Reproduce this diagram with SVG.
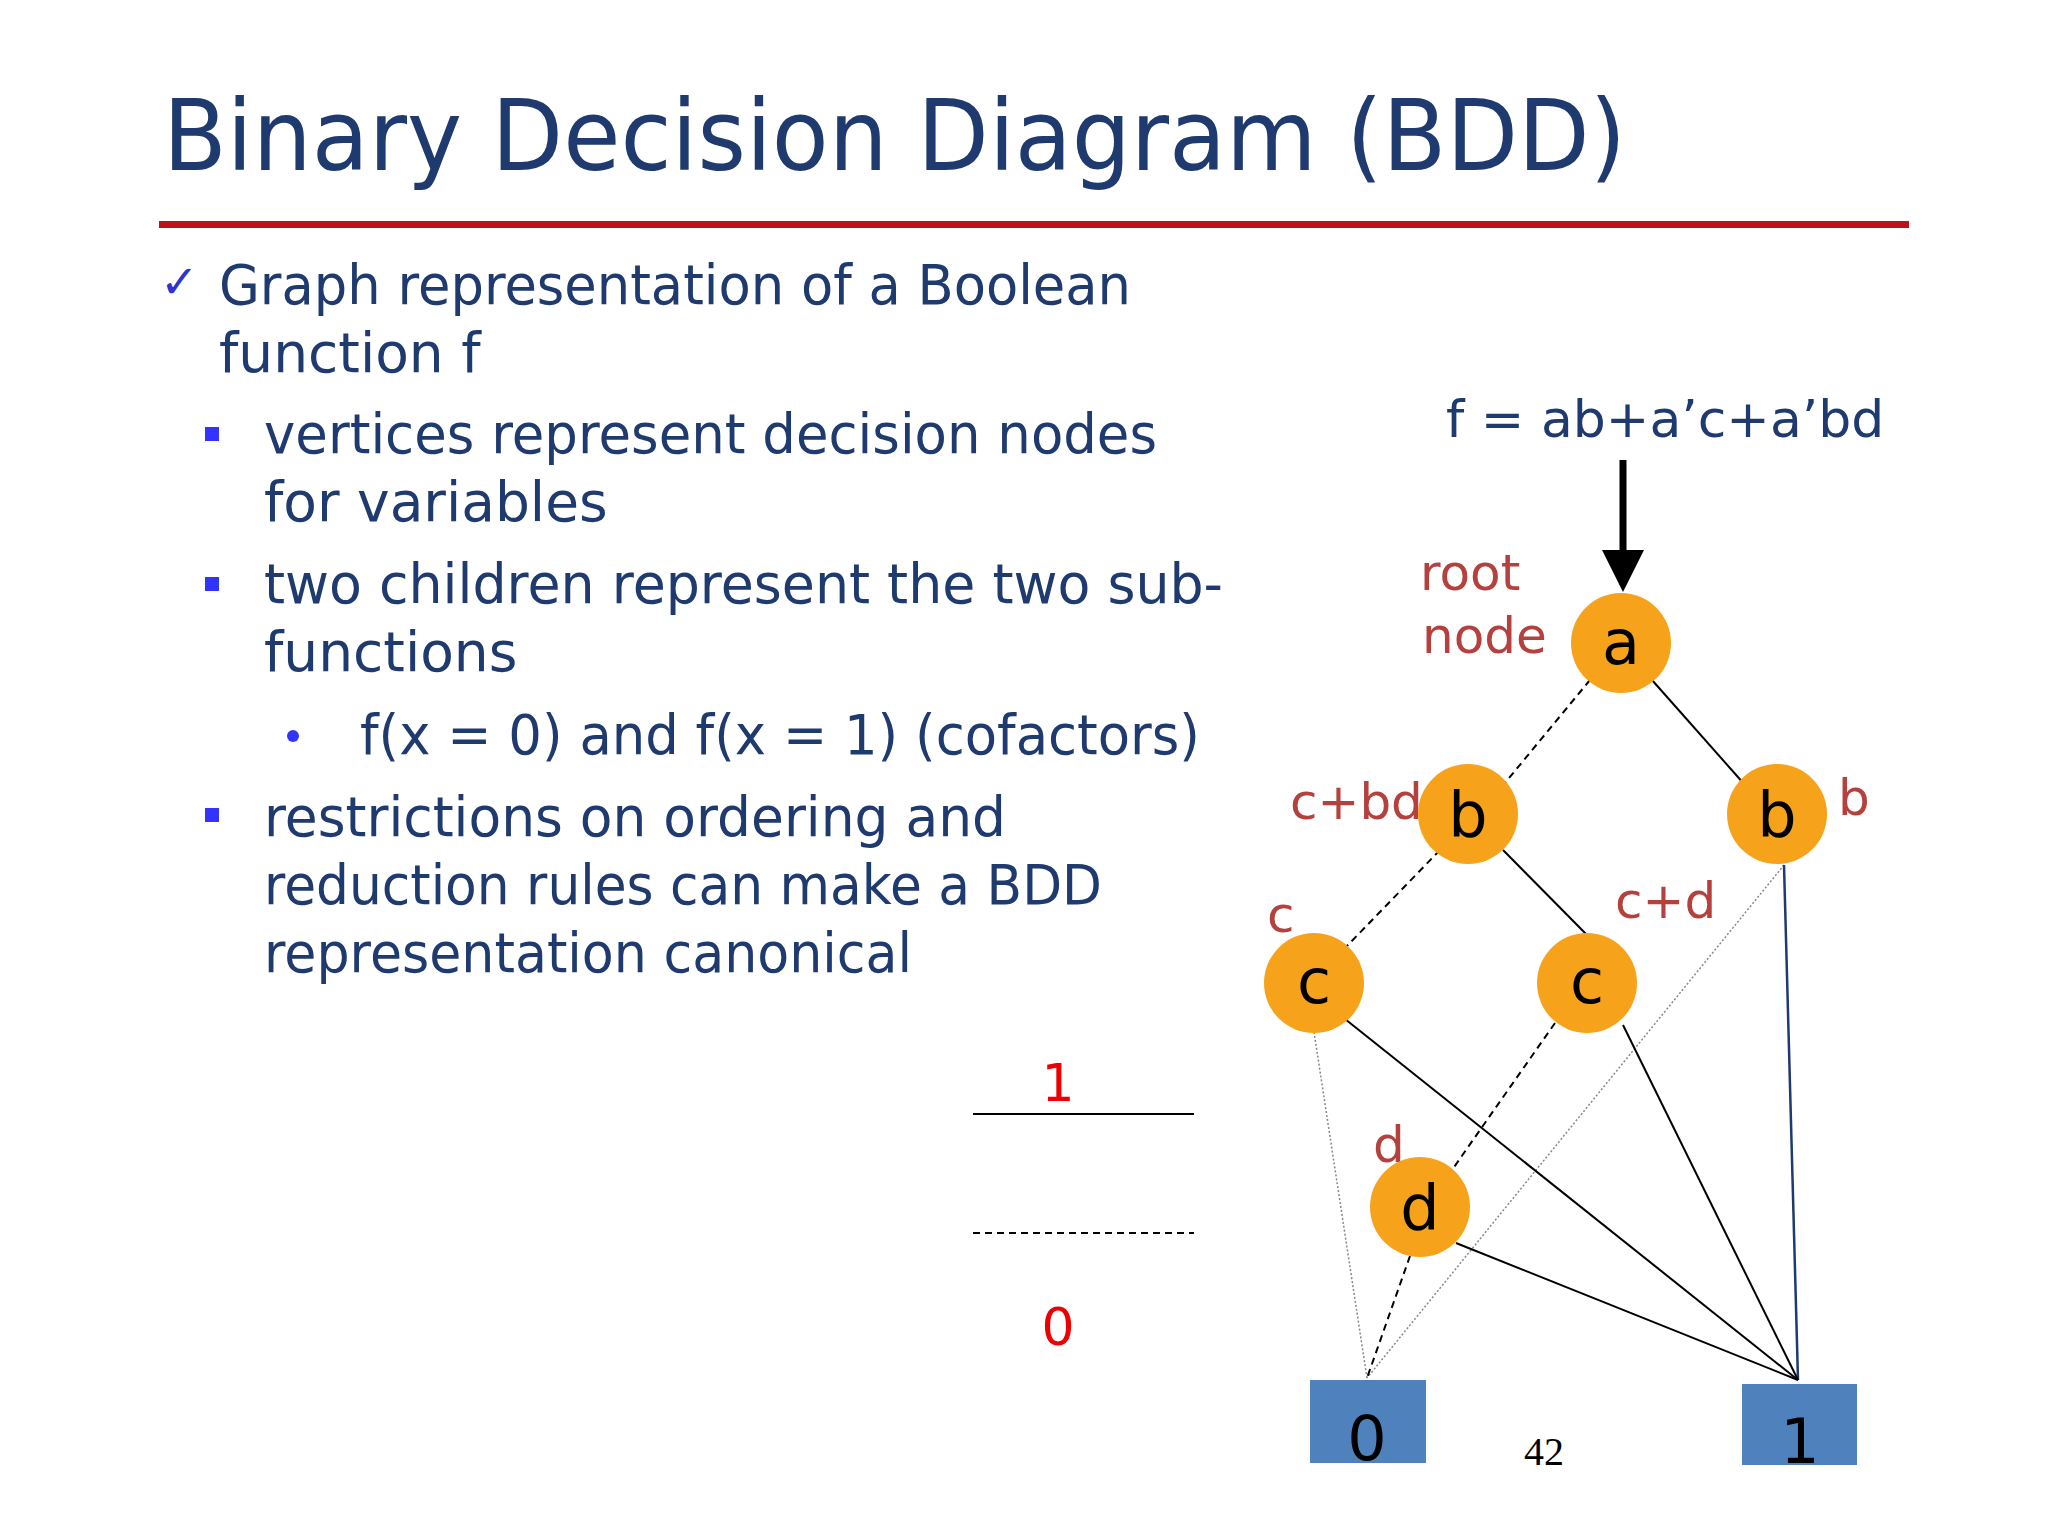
<svg xmlns="http://www.w3.org/2000/svg" width="2048" height="1536" viewBox="0 0 2048 1536">
<style>
.t{font-family:"DejaVu Sans","Noto Sans",sans-serif;fill:#1f3a6e}
.lab{font-family:"DejaVu Sans",sans-serif;fill:#b5413f;font-size:50px}
.nd{fill:#f7a21b}
.nl{font-family:"DejaVu Sans",sans-serif;font-size:62px;fill:#000;text-anchor:middle}
.sq{fill:#3333ff}
</style>
<defs><marker id="ah" markerWidth="6" markerHeight="6" refX="5" refY="3" orient="auto" markerUnits="strokeWidth"><path d="M0,0 L6,3 L0,6 z" fill="#000"/></marker></defs>
<rect width="2048" height="1536" fill="#fff"/>
<text class="t" x="163" y="170" font-size="98" textLength="1463" lengthAdjust="spacingAndGlyphs">Binary Decision Diagram (BDD)</text>
<rect x="159" y="221" width="1750" height="7" fill="#c0101a"/>
<text x="160" y="298" font-family="DejaVu Sans,sans-serif" font-size="46" fill="#3333cc">✓</text>
<g class="t" font-size="55">
<text x="219" y="304" textLength="912" lengthAdjust="spacingAndGlyphs">Graph representation of a Boolean</text>
<text x="219" y="372">function f</text>
<text x="264" y="453" textLength="893" lengthAdjust="spacingAndGlyphs">vertices represent decision nodes</text>
<text x="264" y="521">for variables</text>
<text x="264" y="603" textLength="959" lengthAdjust="spacingAndGlyphs">two children represent the two sub-</text>
<text x="264" y="671">functions</text>
<text x="360" y="754" textLength="840" lengthAdjust="spacingAndGlyphs">f(x = 0) and f(x = 1) (cofactors)</text>
<text x="264" y="836" textLength="742" lengthAdjust="spacingAndGlyphs">restrictions on ordering and</text>
<text x="264" y="904" textLength="838" lengthAdjust="spacingAndGlyphs">reduction rules can make a BDD</text>
<text x="264" y="972" textLength="648" lengthAdjust="spacingAndGlyphs">representation canonical</text>
</g>
<rect class="sq" x="205" y="427" width="14" height="14"/>
<rect class="sq" x="205" y="577" width="14" height="14"/>
<rect class="sq" x="205" y="808" width="14" height="14"/>
<circle cx="293" cy="736" r="6" fill="#3333ff"/>
<text class="t" x="1446" y="437" font-size="52">f = ab+a’c+a’bd</text>
<line x1="1623" y1="460" x2="1623" y2="585" stroke="#000" stroke-width="7" marker-end="url(#ah)"/>
<text class="lab" x="1420" y="590">root</text>
<text class="lab" x="1422" y="653">node</text>
<text class="lab" x="1290" y="819">c+bd</text>
<text class="lab" x="1838" y="815">b</text>
<text class="lab" x="1267" y="932">c</text>
<text class="lab" x="1615" y="918">c+d</text>
<text class="lab" x="1373" y="1162">d</text>
<text x="1058" y="1101" font-family="DejaVu Sans,sans-serif" font-size="52" fill="#e00" text-anchor="middle">1</text>
<text x="1058" y="1345" font-family="DejaVu Sans,sans-serif" font-size="52" fill="#e00" text-anchor="middle">0</text>
<line x1="973" y1="1114" x2="1194" y2="1114" stroke="#000" stroke-width="2"/>
<line x1="973" y1="1233" x2="1194" y2="1233" stroke="#000" stroke-width="2" stroke-dasharray="7,5"/>
<g id="connectors" fill="none">
<line x1="1590" y1="680" x2="1495" y2="795" stroke="#000" stroke-width="2" stroke-dasharray="7,5"/>
<line x1="1652" y1="680" x2="1745" y2="785" stroke="#000" stroke-width="2"/>
<line x1="1440" y1="850" x2="1345" y2="948" stroke="#000" stroke-width="2" stroke-dasharray="7,5"/>
<line x1="1503" y1="850" x2="1587" y2="935" stroke="#000" stroke-width="2"/>
<line x1="1784" y1="865" x2="1367" y2="1378" stroke="#888" stroke-width="1.5" stroke-dasharray="2,2"/>
<line x1="1784" y1="865" x2="1798" y2="1380" stroke="#1f3a6e" stroke-width="2.5"/>
<line x1="1314" y1="1032" x2="1367" y2="1378" stroke="#888" stroke-width="1.5" stroke-dasharray="2,2"/>
<line x1="1345" y1="1019" x2="1798" y2="1380" stroke="#000" stroke-width="2"/>
<line x1="1555" y1="1023" x2="1452" y2="1170" stroke="#000" stroke-width="2" stroke-dasharray="7,5"/>
<line x1="1623" y1="1025" x2="1798" y2="1380" stroke="#000" stroke-width="2"/>
<line x1="1410" y1="1256" x2="1367" y2="1378" stroke="#000" stroke-width="2" stroke-dasharray="7,5"/>
<line x1="1456" y1="1243" x2="1798" y2="1380" stroke="#000" stroke-width="2"/>
</g>
<g id="a"><circle class="nd" cx="1621" cy="643" r="50"/><text class="nl" x="1621" y="664">a</text></g>
<g id="b1"><circle class="nd" cx="1468" cy="814" r="50"/><text class="nl" x="1468" y="836">b</text></g>
<g id="b2"><circle class="nd" cx="1777" cy="814" r="50"/><text class="nl" x="1777" y="836">b</text></g>
<g id="c1"><circle class="nd" cx="1314" cy="983" r="50"/><text class="nl" x="1314" y="1003">c</text></g>
<g id="c2"><circle class="nd" cx="1587" cy="983" r="50"/><text class="nl" x="1587" y="1003">c</text></g>
<g id="d"><circle class="nd" cx="1420" cy="1207" r="50"/><text class="nl" x="1420" y="1229">d</text></g>
<g id="t0"><rect x="1310" y="1380" width="116" height="83" fill="#4f81bd"/><text class="nl" x="1367" y="1460" font-size="54">0</text></g>
<g id="t1"><rect x="1742" y="1384" width="115" height="81" fill="#4f81bd"/><text class="nl" x="1800" y="1463" font-size="54">1</text></g>
<text x="1544" y="1465" font-family="Liberation Serif,serif" font-size="40" fill="#000" text-anchor="middle">42</text>
</svg>
